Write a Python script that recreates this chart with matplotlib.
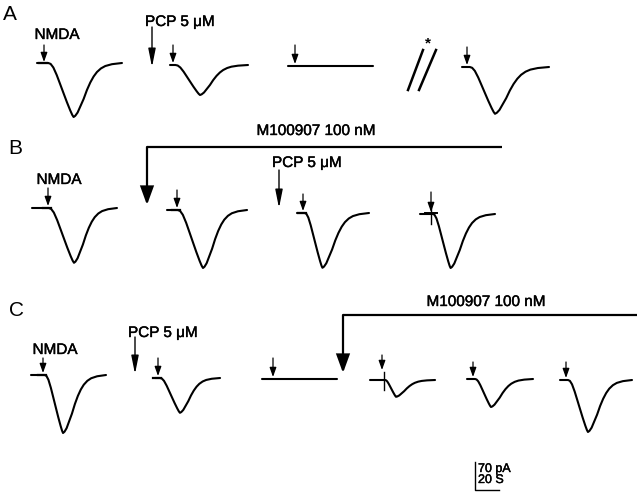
import matplotlib
matplotlib.use("Agg")
import matplotlib.pyplot as plt
import matplotlib.patheffects as pe

plt.rcParams['font.family'] = ['Liberation Sans', 'DejaVu Sans']

W, H = 637, 496
PX_PER_S = 24 / 20.0     # scale bar: 20 s
PX_PER_PA = 28 / 70.0    # scale bar: 70 pA

# ---- data: normalized waveform template (trace A1) ----
FALL_T = [0.0, 0.093, 0.2, 0.333, 0.467, 0.6, 0.733, 0.867, 0.947, 1.0]
FALL_Y = [0.0, 0.017, 0.083, 0.222, 0.389, 0.556, 0.722, 0.878, 0.961, 1.0]
RISE_T = [0.0, 0.034, 0.083, 0.138, 0.207, 0.276, 0.345, 0.414, 0.483, 0.566, 0.655, 0.793, 1.0]
RISE_Y = [1.0, 0.978, 0.917, 0.806, 0.667, 0.5, 0.361, 0.25, 0.167, 0.1, 0.056, 0.022, 0.0]

# ---- data: per-trace values (seconds from trace start, amplitude in pA) ----
trace_names = ["A1", "A2", "A3", "A4",
               "B1", "B2", "B3", "B4",
               "C1", "C2", "C3", "C4", "C5", "C6"]
onset_s = [9.4, 4.5, 6.0, 6.5, 14.0, 9.0, 6.5, 10.8, 11.5, 4.2, 9.0, 12.5, 6.7, 6.7]
peak_s = [30.5, 25.0, 0.0, 27.5, 35.0, 30.0, 21.2, 25.5, 26.7, 20.8, 0.0, 21.7, 20.0, 23.3]
end_s = [70.8, 65.0, 70.8, 72.5, 70.8, 66.7, 60.0, 62.5, 62.5, 54.2, 62.5, 54.2, 55.0, 60.0]
amp_pA = [135, 75, 0, 117, 137, 145, 137, 135, 145, 87, 0, 42, 70, 130]

scale_pA = 70
scale_s = 20

# ---- layout (pixel positions of trace start / baseline) ----
trace_x0 = [37, 170, 288, 462, 32, 167, 297, 420, 31, 155, 262, 370, 467, 560]
trace_y0 = [63, 65, 66, 67, 208, 210, 213, 214, 375, 378, 379, 380, 379, 380]

fig = plt.figure(figsize=(W / 100, H / 100), dpi=100)
fig.patch.set_facecolor("white")

ov = fig.add_axes([0, 0, 1, 1])
ov.set_xlim(0, W)
ov.set_ylim(H, 0)
ov.axis("off")


def make_ax(x0, y0, t_lo, t_hi, i_lo, i_hi):
    left = (x0 + t_lo * PX_PER_S) / W
    width = (t_hi - t_lo) * PX_PER_S / W
    bottom = 1 - (y0 - i_lo * PX_PER_PA) / H
    height = (i_hi - i_lo) * PX_PER_PA / H
    ax = fig.add_axes([left, bottom, width, height])
    ax.set_xlim(t_lo, t_hi)
    ax.set_ylim(i_lo, i_hi)
    ax.axis("off")
    ax.patch.set_alpha(0)
    return ax


for k, name in enumerate(trace_names):
    ax = make_ax(trace_x0[k], trace_y0[k], -2, 80, -170, 30)
    on, pk, en, a = onset_s[k], peak_s[k], end_s[k], amp_pA[k]
    if a == 0:
        t = [0, en]
        y = [0, 0]
    else:
        t = [0, on]
        y = [0, 0]
        t += [on + f * (pk - on) for f in FALL_T[1:]]
        y += [-a * f for f in FALL_Y[1:]]
        t += [pk + f * (en - pk) for f in RISE_T[1:]]
        y += [-a * f for f in RISE_Y[1:]]
    ax.plot(t, y, color="black", lw=1.5, solid_joinstyle="round", solid_capstyle="round")

# scale bar
sb = make_ax(475, 490, -2, 40, -10, 90)
sb.plot([0, 0, scale_s], [scale_pA, 0, 0], color="black", lw=1.0)

THICK = [pe.withStroke(linewidth=0.3, foreground="black")]
TXT = dict(color="black", fontsize=11, path_effects=THICK)

# panel letters
ov.text(10, 15, "A", fontsize=15, ha="center", va="center")
ov.text(15, 148, "B", fontsize=15, ha="center", va="center")
ov.text(16, 311, "C", fontsize=15, ha="center", va="center")

# NMDA labels
ov.text(57, 35, "NMDA", ha="center", va="center", **TXT)
ov.text(59, 180, "NMDA", ha="center", va="center", **TXT)
ov.text(55, 350, "NMDA", ha="center", va="center", **TXT)

# PCP labels
ov.text(145, 22, "PCP 5 μM", ha="left", va="center", **TXT)
ov.text(272, 163, "PCP 5 μM", ha="left", va="center", **TXT)
ov.text(128, 333, "PCP 5 μM", ha="left", va="center", **TXT)

# M100907 labels
ov.text(316, 131, "M100907 100 nM", ha="center", va="center", **TXT)
ov.text(486, 302, "M100907 100 nM", ha="center", va="center", **TXT)

# scale bar labels
ov.text(478, 469, "70 pA", fontsize=9, ha="left", va="center", path_effects=THICK)
ov.text(478, 480, "20 S", fontsize=9, ha="left", va="center", path_effects=THICK)


def small_arrow(x, y1, y2):
    ov.annotate("", xy=(x, y2), xytext=(x, y1),
                arrowprops=dict(arrowstyle="-|>,head_length=0.7,head_width=0.25",
                                lw=0.9, color="black", shrinkA=0, shrinkB=0,
                                mutation_scale=8))


def big_arrow(x, y1, y2):
    ov.annotate("", xy=(x, y2), xytext=(x, y1),
                arrowprops=dict(arrowstyle="-|>,head_length=1.1,head_width=0.22",
                                lw=1.0, color="black", shrinkA=0, shrinkB=0,
                                mutation_scale=10))


def bracket(x, y_top, y_tip, x_end):
    ov.plot([x, x_end], [y_top, y_top], color="black", lw=1.6, solid_capstyle="butt")
    ov.annotate("", xy=(x, y_tip), xytext=(x, y_top),
                arrowprops=dict(arrowstyle="-|>,head_length=1.1,head_width=0.4",
                                lw=1.6, color="black", shrinkA=0, shrinkB=0,
                                mutation_scale=10, joinstyle="miter"))


# row A arrows
for x, a, b in [(44, 45, 62), (173, 45, 63), (295, 45, 64), (467, 47, 65)]:
    small_arrow(x, a, b)
big_arrow(152, 27, 67)

# row B arrows
for x, a, b in [(48, 188, 206), (177, 190, 208), (303, 194, 211), (431, 192, 212)]:
    small_arrow(x, a, b)
big_arrow(279, 170, 208)
bracket(147, 147, 205, 502)

# row C arrows
for x, a, b in [(43, 358, 373), (158, 358, 376), (273, 358, 377), (382, 355, 370),
                (473, 362, 377), (566, 362, 378)]:
    small_arrow(x, a, b)
big_arrow(135, 337, 374)
bracket(343, 315, 373, 637)

# artifacts / onset bumps
for x, y in [(44, 62), (48, 207), (177, 209), (303, 212), (158, 377), (43, 374)]:
    ov.plot([x - 5, x + 3], [y + 0.5, y + 0.5], color="black", lw=1.6)
ov.plot([431, 431], [204, 224], color="black", lw=1.0)
ov.plot([425, 437], [213, 213], color="black", lw=1.4)
ov.plot([384, 384], [372, 390], color="black", lw=1.0)

# break marks in row A
ov.plot([408, 423], [90, 50], color="black", lw=1.8)
ov.plot([419, 436], [90, 50], color="black", lw=1.8)
ov.text(428, 43, "*", fontsize=11, ha="center", va="center", fontweight="bold")

fig.savefig("out.png", dpi=100, facecolor="white")
